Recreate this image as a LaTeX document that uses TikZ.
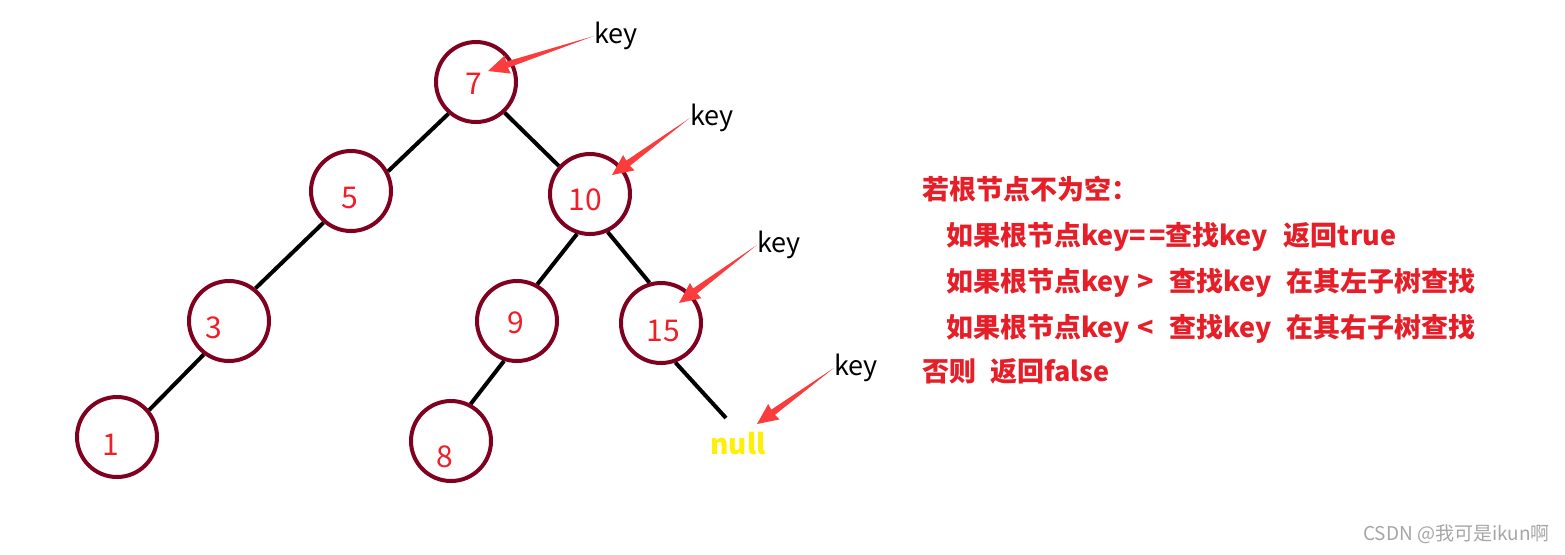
\documentclass[tikz,border=0pt]{standalone}
\usepackage{fontspec}
\setmainfont{Noto Sans CJK SC}
\usetikzlibrary{calc}

\definecolor{ringred}{RGB}{128,0,32}
\definecolor{numred}{RGB}{240,30,40}
\definecolor{arrowred}{RGB}{250,60,60}
\definecolor{textred}{RGB}{230,30,40}
\definecolor{nullyellow}{RGB}{255,240,0}

% tapered red pointer from a key label to a spot
\newcommand{\keyarrow}[2]{%
  \path (#1) coordinate (ka) (#2) coordinate (kb);
  \path ($(kb)!10pt!(ka)$) coordinate (kc);
  \fill[arrowred] (ka) -- ($(kc)!1.6pt!90:(kb)$) -- ($(kc)!4.8pt!95:(kb)$) -- (kb)
    -- ($(kc)!4.8pt!-95:(kb)$) -- ($(kc)!1.6pt!-90:(kb)$) -- cycle;
}

\begin{document}
\begin{tikzpicture}[x=0.5pt, y=-0.5pt,
    bnode/.style={circle, draw=ringred, line width=2pt, minimum size=40pt, inner sep=0pt},
    num/.style={text=numred, font=\fontsize{15}{18}\selectfont},
    edge/.style={line width=2pt},
    keytext/.style={inner sep=0pt, font=\fontsize{13.5}{16}\selectfont},
    rule/.style={anchor=base west, inner sep=0pt, text=textred, font=\bfseries\fontsize{13.5}{16}\selectfont}]
    \useasboundingbox (0,0) rectangle (1565,554);

    \node[bnode, label={[num, shift={(-2,2)}]center:7}] (n7) at (476,82) {};
    \node[bnode, label={[num, shift={(-1,7)}]center:5}] (n5) at (351,191) {};
    \node[bnode, label={[num, shift={(-5,6)}]center:10}] (n10) at (590,194) {};
    \node[bnode, label={[num, shift={(-15,7)}]center:3}] (n3) at (229,321) {};
    \node[bnode, label={[num, shift={(-1,2)}]center:9}] (n9) at (517,321) {};
    \node[bnode, label={[num, shift={(2,8)}]center:15}] (n15) at (661,323) {};
    \node[bnode, label={[num, shift={(-6,8)}]center:1}] (n1) at (117,437) {};
    \node[bnode, label={[num, shift={(-6,16)}]center:8}] (n8) at (451,441) {};
    \node[text=nullyellow, font=\bfseries\fontsize{14}{16}\selectfont, inner sep=0pt] (null) at (738,443) {null};
    \coordinate (nullend) at (726,418);

    \draw[edge] (n7.229) -- (n5.28);
    \draw[edge] (n7.313) -- (n10.138);
    \draw[edge] (n5.229) -- (n3.51);
    \draw[edge] (n10.252) -- (n9.61);
    \draw[edge] (n10.295) -- (n15.106);
    \draw[edge] (n3.233) -- (n1.40);
    \draw[edge] (n9.252) -- (n8.62);
    \draw[edge] (n15.290) -- (nullend);

    \node[keytext] (key7) at (616,36) {key};
    \node[keytext] (key10) at (712,118) {key};
    \node[keytext] (key15) at (779,245) {key};
    \node[keytext] (keynull) at (856,368) {key};
    \coordinate (t7) at ($(n7)+(12,-11)$);
    \coordinate (t10) at ($(n10)+(22,-19)$);
    \coordinate (t15) at ($(n15)+(18,-20)$);
    \coordinate (tnull) at ($(null)+(19,-19)$);
    \keyarrow{key7.west}{t7}
    \keyarrow{key10.west}{t10}
    \keyarrow{key15.west}{t15}
    \keyarrow{keynull.west}{tnull}

    \node[rule] (l1) at (922,199) {若根节点不为空：};
    \node[rule] (l2) at (946,245) {如果根节点key=\hspace{1.5pt}=查找key\hspace{8pt}返回true};
    \node[rule] (l3) at (946,291) {如果根节点key\hspace{4pt}>\hspace{7.5pt}查找key\hspace{7.5pt}在其左子树查找};
    \node[rule] (l4) at (946,337) {如果根节点key\hspace{4pt}<\hspace{7.5pt}查找key\hspace{7.5pt}在其右子树查找};
    \node[rule] (l5) at (922,381) {否则\hspace{7pt}返回false};

    \node[anchor=east, inner sep=0pt, text=gray!70, font=\fontsize{9.5}{11}\selectfont] (mark) at (1550,534) {CSDN @我可是ikun啊};
  \end{tikzpicture}
\end{document}
